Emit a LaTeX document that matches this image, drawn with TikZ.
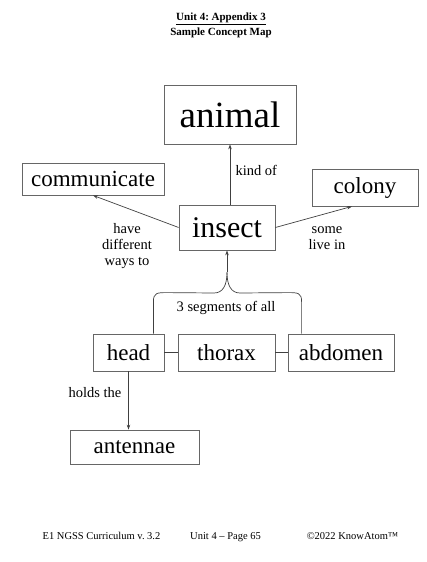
\documentclass[tikz,border=0pt]{standalone}
\usepackage{fontspec}
\setmainfont{Liberation Serif}
\frenchspacing
\usetikzlibrary{arrows.meta}
\begin{document}
\begin{tikzpicture}[x=1pt,y=-1pt,
    concept/.style={draw=black!60,line width=0.8pt,inner sep=0pt},
    small/.style={font=\fontsize{23}{26}\selectfont},
    linkword/.style={font=\fontsize{14.5}{16}\selectfont,align=center},
    footer/.style={font=\fontsize{10.5}{12}\selectfont,anchor=base},
    >={Stealth[length=5pt,width=3.5pt]}]
  \useasboundingbox (0,0) rectangle (426,562);
  \draw
    (221,20) node[font=\bfseries\fontsize{11}{13}\selectfont,anchor=base] (title){\underline{Unit 4: Appendix 3}}
    (221,35) node[font=\bfseries\fontsize{11}{13}\selectfont,anchor=base] (subtitle){Sample Concept Map}
    (230,114.5) node[concept,minimum width=132pt,minimum height=59pt,font=\fontsize{37}{40}\selectfont] (animal){animal}
    (227,227.5) node[concept,minimum width=96pt,minimum height=45pt,font=\fontsize{30}{33}\selectfont] (insect){insect}
    (93,179) node[concept,small,minimum width=142pt,minimum height=32pt] (communicate){communicate}
    (365,187.5) node[concept,small,minimum width=106pt,minimum height=37pt] (colony){colony}
    (128.5,352.5) node[concept,small,minimum width=71pt,minimum height=37pt] (head){head}
    (226.5,352.5) node[concept,small,minimum width=97pt,minimum height=37pt] (thorax){thorax}
    (341,352.5) node[concept,small,minimum width=106pt,minimum height=37pt] (abdomen){abdomen}
    (134.5,447) node[concept,small,minimum width=129pt,minimum height=34pt] (antennae){antennae}
    (232,170) node[linkword,anchor=west] (kindof){kind of}
    (127,246) node[linkword] (ways){have\\different\\ways to}
    (327,238) node[linkword] (livein){some\\live in}
    (226,308) node[linkword] (segments){3 segments of all}
    (95,393) node[linkword] (holds){holds the}
    (101.5,539) node[footer] (curriculum){E1 NGSS Curriculum v. 3.2}
    (225.5,539) node[footer] (page){Unit 4 -- Page 65}
    (352.5,539) node[footer] (copyright){©2022 KnowAtom™};
  \coordinate (join) at ([yshift=-22pt]insect.south);
  \coordinate (leftleg) at ([xshift=-11pt]head.north east);
  \coordinate (rightleg) at ([xshift=14pt]abdomen.north west);
  \begin{scope}[->,draw=black!75,line width=0.7pt]
    \draw (animal.south |- insect.north) to (animal.south);
    \draw (insect.west) to (communicate.south);
    \draw (insect.east) to ([xshift=-13pt]colony.south);
    \draw (head.south) to (head.south |- antennae.north);
    \draw (join) to (insect.south);
  \end{scope}
  \begin{scope}[-,draw=black!75,line width=0.7pt]
    \draw (head) to (thorax);
    \draw (thorax) to (abdomen);
    % brace from the three segments
    \draw (leftleg) -- ++(0,-32) .. controls +(0,-9) and +(-10,0) .. ++(14,-9)
      -- (214,293) .. controls (223,293) and (join |- 0,285) .. (join);
    \draw (rightleg) -- ++(0,-32) .. controls +(0,-9) and +(10,0) .. ++(-14,-9)
      -- (240,293) .. controls (231,293) and (join |- 0,285) .. (join);
  \end{scope}
\end{tikzpicture}
\end{document}
